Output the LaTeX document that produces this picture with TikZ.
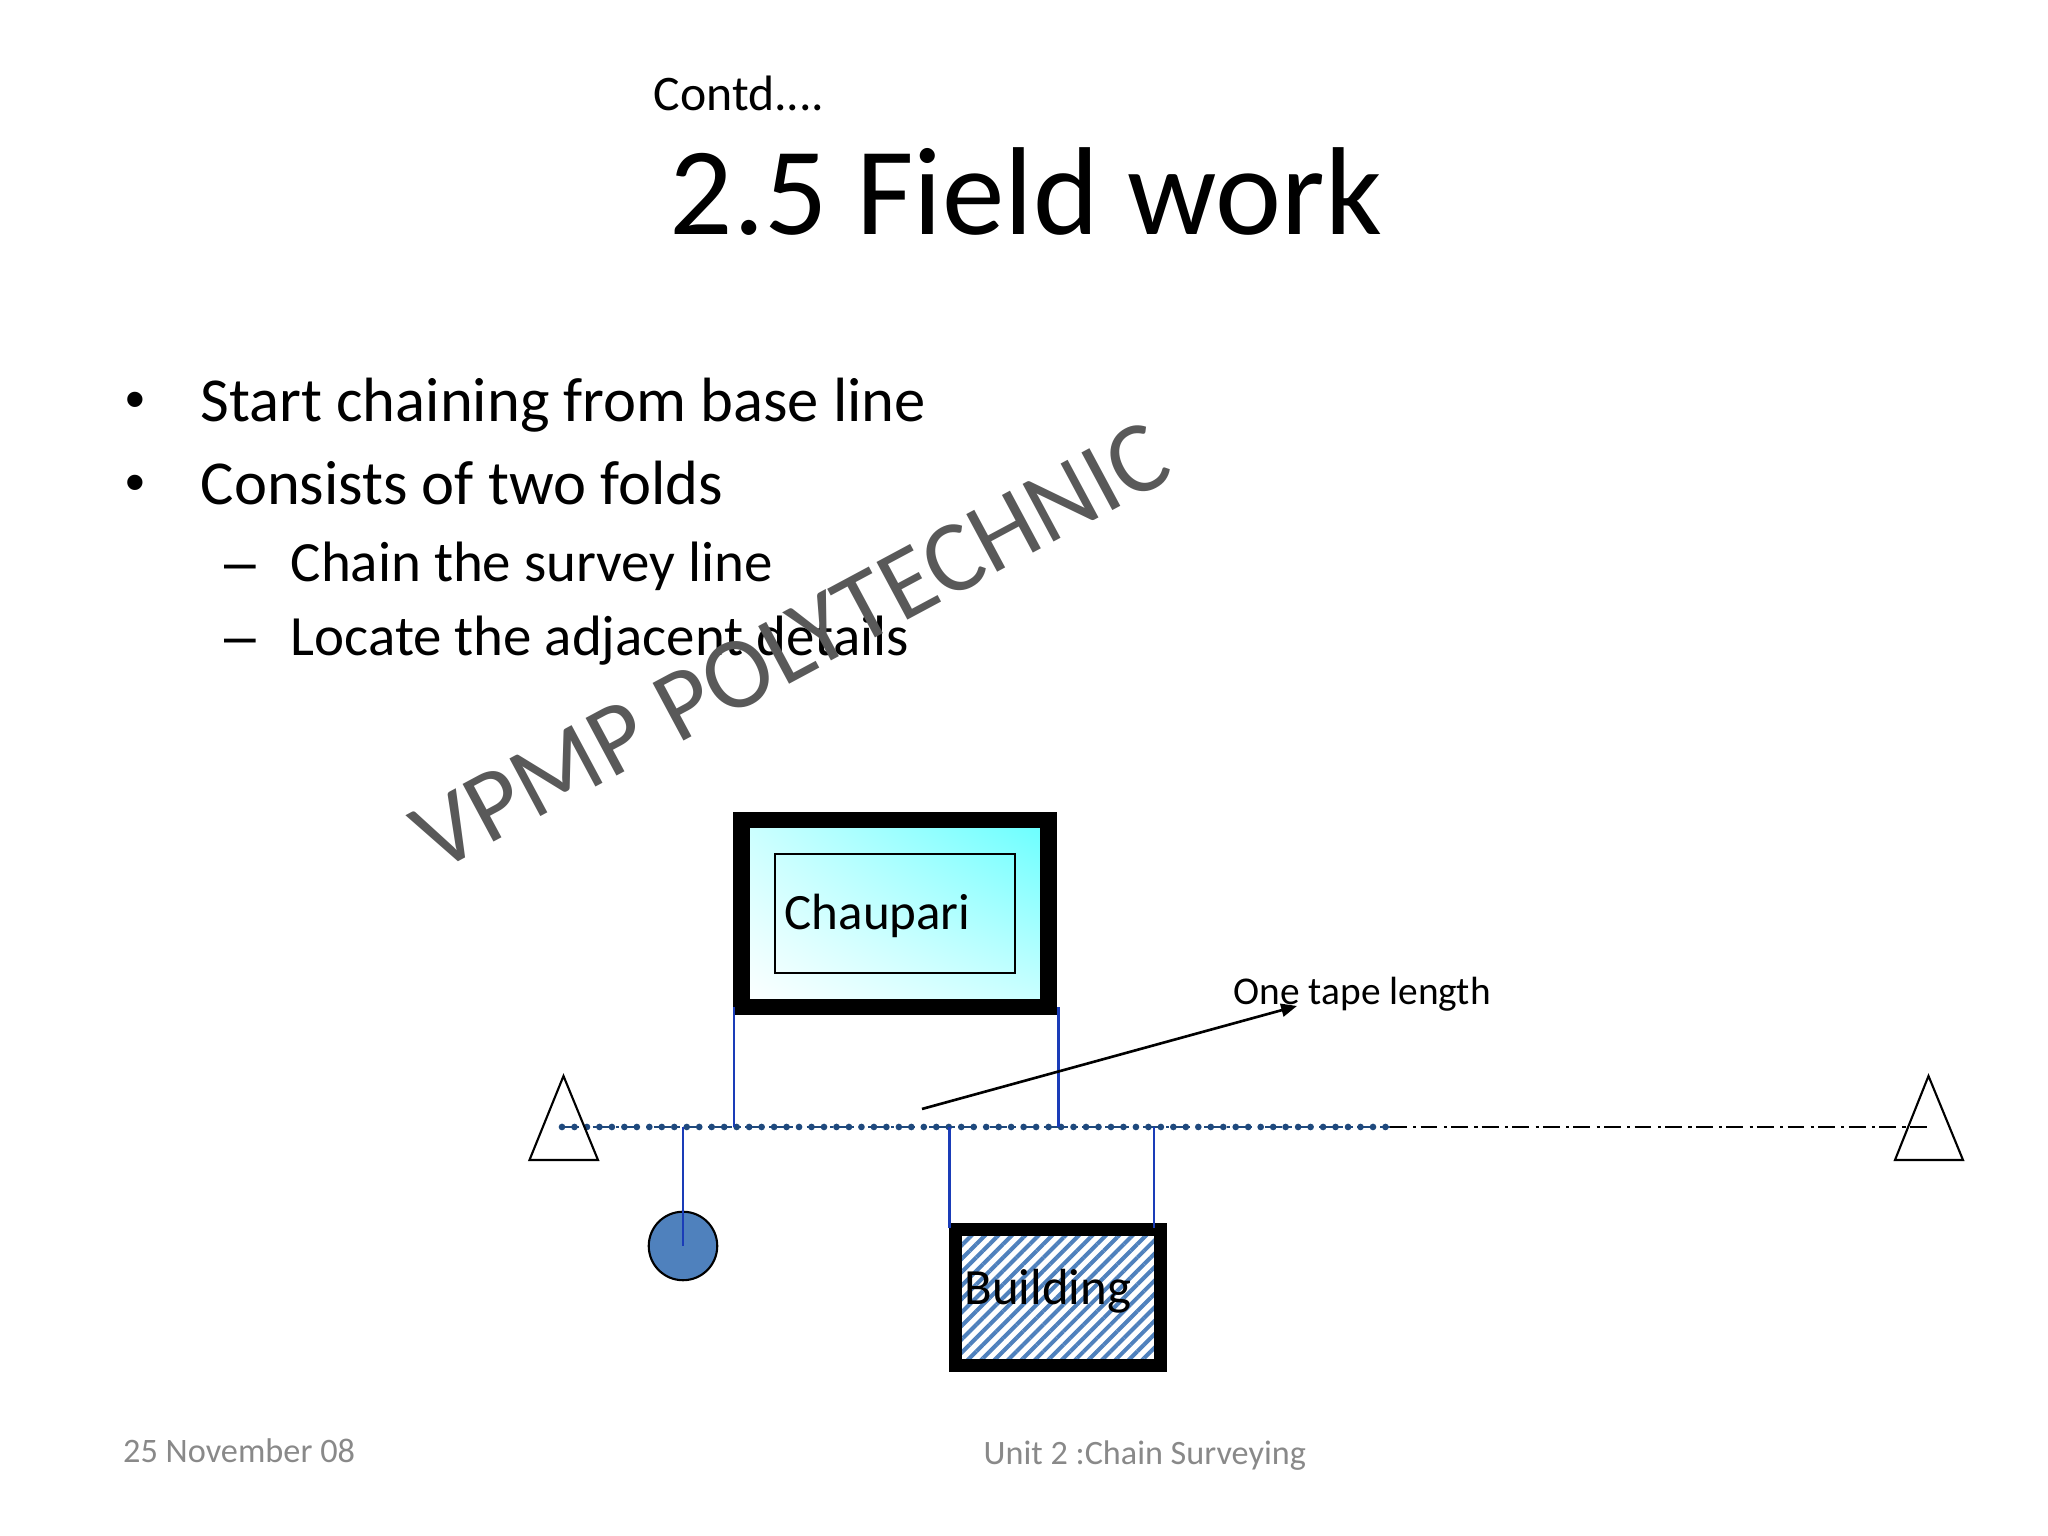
\documentclass[tikz,border=0pt]{standalone}
\usepackage{fontspec}
\setmainfont{Carlito}
\newfontfamily\bulletfont{Liberation Sans}
\usetikzlibrary{arrows.meta,patterns.meta,shadings}
\definecolor{chaincol}{HTML}{1F497D}
\definecolor{hatchcol}{HTML}{4F81BD}
\definecolor{offsetcol}{HTML}{1A3CB8}
\definecolor{markcol}{HTML}{595959}
\definecolor{footcol}{HTML}{898989}
\definecolor{chaupcol}{HTML}{66FFFF}
\definecolor{chaupmid}{HTML}{CCFFFF}
\tikzset{
	txt/.style={inner sep=0, anchor=base west},
	ranging/.style={line width=.8pt, dash pattern=on 4.8pt off 1.8pt on .9pt off 1.2pt},
	chaindots/.style={chaincol, line width=1.9pt, line cap=round, dash pattern=on 0pt off 3.55pt},
	offset/.style={offsetcol, line width=.6pt},
	station/.style={line width=.6pt, line join=miter},
}
\begin{document}
\begin{tikzpicture}
	\useasboundingbox (0, 0) rectangle (20.48, 15.36);
	\node[txt, font=\fontsize{14.15}{17}\selectfont] (contd) at (6.53, 14.255) {Contd....};
	\node[txt, font=\fontsize{35.6}{40}\selectfont] (title) at (6.69, 13.01) {2.5 Field work};
	\node[txt, font=\fontsize{17.8}{21}\selectfont] (itema) at (2.00, 11.145) {Start chaining from base line};
	\node[txt, font=\fontsize{17.8}{21}\selectfont] (itemb) at (2.00, 10.315) {Consists of two folds};
	\node[txt, font=\fontsize{16.2}{19}\selectfont] (itemc) at (2.90, 9.545) {Chain the survey line};
	\node[txt, font=\fontsize{16.2}{19}\selectfont] (itemd) at (2.90, 8.805) {Locate the adjacent details};
	\node[inner sep=0, font=\bulletfont\fontsize{16}{19}\selectfont] (bula) at (1.35, 11.31) {•};
	\node[inner sep=0, font=\bulletfont\fontsize{16}{19}\selectfont] (bulb) at (1.35, 10.48) {•};
	\node[txt, font=\bulletfont\fontsize{16.2}{19}\selectfont] (dasha) at (2.24, 9.545) {–};
	\node[txt, font=\bulletfont\fontsize{16.2}{19}\selectfont] (dashb) at (2.24, 8.805) {–};

	\node[rotate=28.2, inner sep=0, text=markcol, font=\fontsize{29}{33}\selectfont] (mark) at (7.91, 8.90) {VPMP POLYTECHNIC};

	\node[draw, line width=4.8pt, minimum width=3.075cm, minimum height=1.87cm, inner sep=0, outer sep=0, shade, lower left=white, upper right=chaupcol, upper left=chaupmid, lower right=chaupmid] (chaupari) at (8.95, 6.225) {};
	\node[draw, line width=.5pt, minimum width=2.4cm, minimum height=1.195cm, inner sep=0, outer sep=0] (court) at (8.95, 6.225) {};
	\node[txt, font=\fontsize{14.5}{17}\selectfont] (chauptxt) at (7.84, 6.06) {Chaupari};
	\node[draw, line width=3.7pt, minimum width=2.045cm, minimum height=1.36cm, inner sep=0, outer sep=0, pattern={Lines[angle=45, distance=2.7pt, line width=1.15pt]}, pattern color=hatchcol] (building) at (10.58, 2.385) {};
	\node[txt, font=\fontsize{14.45}{17}\selectfont] (buildtxt) at (9.64, 2.31) {Building};
	\node[draw, circle, line width=.6pt, fill=hatchcol, minimum size=.685cm, inner sep=0] (tree) at (6.83, 2.90) {};

	\coordinate (stna) at (5.62, 4.09);
	\coordinate (stnb) at (19.285, 4.09);
	\coordinate (tapeend) at (13.90, 4.09);
	\draw[ranging, chaincol] (stna)--(tapeend);
	\draw[ranging] (tapeend)--(stnb);
	\draw[chaindots] (stna)--(tapeend);

	\draw[station] (5.295, 3.76)--(5.635, 4.60)--(5.98, 3.76)--cycle;
	\draw[station] (18.95, 3.76)--(19.285, 4.60)--(19.63, 3.76)--cycle;

	\draw[offset] (7.34, 4.09)--(7.34, 5.29);
	\draw[offset] (10.585, 4.09)--(10.585, 5.29);
	\draw[offset] (9.495, 4.09)--(9.495, 3.08);
	\draw[offset] (11.54, 4.09)--(11.54, 3.08);
	\draw[offset] (6.83, 4.09)--(tree.center);

	\coordinate (arrtail) at (9.22, 4.27);
	\coordinate (arrtip) at (12.97, 5.30);
	\draw[-{Triangle[length=4.5pt, width=3.7pt]}, line width=.75pt] (arrtail)--(arrtip);
	\node[txt, font=\fontsize{11.2}{13}\selectfont] (tapetxt) at (12.33, 5.31) {One tape length};

	\node[txt, text=footcol, font=\fontsize{9.76}{12}\selectfont] (date) at (1.225, 0.735) {25 November 08};
	\node[txt, text=footcol, font=\fontsize{9.72}{12}\selectfont] (unit) at (9.83, 0.71) {Unit 2 :Chain Surveying};
\end{tikzpicture}
\end{document}
